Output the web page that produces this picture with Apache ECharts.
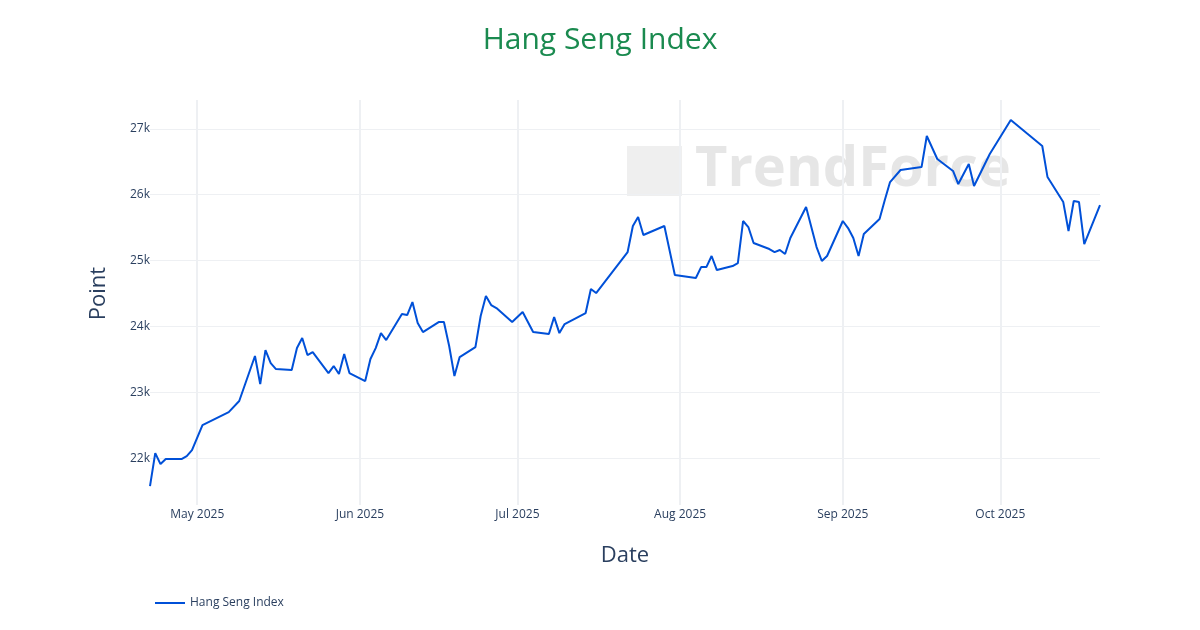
<!DOCTYPE html>
<html><head><meta charset="utf-8">
<script src="https://cdn.jsdelivr.net/npm/echarts@6/dist/echarts.min.js"></script>
<style>html,body{margin:0;padding:0;background:#fff}#c{width:1200px;height:630px}</style>
</head><body><div id="c"></div>
<script>
const dates = ['2025-04-22','2025-04-23','2025-04-24','2025-04-25','2025-04-27','2025-04-28','2025-04-29','2025-04-30','2025-05-02','2025-05-07','2025-05-09','2025-05-12','2025-05-13','2025-05-14','2025-05-15','2025-05-16','2025-05-19','2025-05-20','2025-05-21','2025-05-22','2025-05-23','2025-05-26','2025-05-27','2025-05-28','2025-05-29','2025-05-30','2025-06-02','2025-06-03','2025-06-04','2025-06-05','2025-06-06','2025-06-09','2025-06-10','2025-06-11','2025-06-12','2025-06-13','2025-06-16','2025-06-17','2025-06-18','2025-06-19','2025-06-20','2025-06-23','2025-06-24','2025-06-25','2025-06-26','2025-06-27','2025-06-30','2025-07-02','2025-07-04','2025-07-07','2025-07-08','2025-07-09','2025-07-10','2025-07-14','2025-07-15','2025-07-16','2025-07-22','2025-07-23','2025-07-24','2025-07-25','2025-07-29','2025-07-31','2025-08-04','2025-08-05','2025-08-06','2025-08-07','2025-08-08','2025-08-11','2025-08-12','2025-08-13','2025-08-14','2025-08-15','2025-08-18','2025-08-19','2025-08-20','2025-08-21','2025-08-22','2025-08-25','2025-08-27','2025-08-28','2025-08-29','2025-09-01','2025-09-02','2025-09-03','2025-09-04','2025-09-05','2025-09-08','2025-09-09','2025-09-10','2025-09-12','2025-09-16','2025-09-17','2025-09-19','2025-09-22','2025-09-23','2025-09-25','2025-09-26','2025-09-29','2025-10-03','2025-10-06','2025-10-09','2025-10-10','2025-10-13','2025-10-14','2025-10-15','2025-10-16','2025-10-17','2025-10-20'];
const values = [21574,22075,21908,21984,21984,21984,22030,22121,22501,22698,22866,23550,23124,23641,23443,23352,23337,23671,23823,23565,23610,23291,23398,23276,23580,23291,23170,23504,23671,23899,23793,24188,24173,24370,24051,23914,24066,24066,23702,23246,23534,23686,24158,24462,24325,24279,24066,24218,23914,23884,24142,23899,24036,24203,24568,24507,25130,25526,25662,25389,25526,24781,24735,24902,24902,25070,24857,24918,24963,25602,25510,25267,25176,25130,25161,25100,25343,25814,25206,24994,25070,25602,25495,25343,25070,25404,25632,25921,26194,26377,26422,26894,26544,26362,26164,26468,26134,26620,27137,26939,26742,26270,25890,25450,25906,25890,25252,25845];
const monthTicks = ['2025-05-01','2025-06-01','2025-07-01','2025-08-01','2025-09-01','2025-10-01'];
const monthLabels = ['May 2025','Jun 2025','Jul 2025','Aug 2025','Sep 2025','Oct 2025'];
const chart = echarts.init(document.getElementById('c'));
const fam = '"Open Sans", Arial, sans-serif';
chart.setOption({
  animation:false,
  title:{text:'Hang Seng Index',left:'center',top:20,textStyle:{color:'#1a8a4f',fontSize:30,fontWeight:'normal',fontFamily:fam}},
  graphic:[{type:'text',left:695,top:142,z:0,style:{text:'TrendForce',fontSize:56,fontWeight:'bold',fill:'rgba(200,200,200,0.45)',fontFamily:fam}},
           {type:'rect',shape:{x:627,y:146,width:55,height:50},z:0,style:{fill:'rgba(210,210,210,0.35)'}}],
  legend:{left:150,bottom:16,itemWidth:30,itemHeight:2,icon:'rect',textStyle:{color:'#2a3f5f',fontSize:12,fontFamily:fam}},
  grid:[{left:150,right:100,top:100,bottom:125},{left:150,right:100,top:63,bottom:106}],
  xAxis:[{type:'time',gridIndex:0,min:'2025-04-22',max:'2025-10-20',
    name:'Date',nameLocation:'middle',nameGap:40,nameTextStyle:{fontSize:22,color:'#2a3f5f',fontFamily:fam},
    axisLine:{show:false},axisTick:{show:false},axisLabel:{show:false},splitLine:{show:false}},
    {type:'value',gridIndex:1,show:false}],
  yAxis:[{type:'value',gridIndex:0,min:21286,max:27441,show:false},
    {type:'value',gridIndex:1,min:21000,max:28000,interval:1000,
     name:'Point',nameLocation:'middle',nameGap:40,nameTextStyle:{fontSize:22,color:'#2a3f5f',fontFamily:fam},
     axisLabel:{color:'#2a3f5f',fontSize:12,fontFamily:fam,margin:0,
       formatter:v=>(v===21000||v===28000)?'':(v/1000)+'k'},
     axisLine:{show:false},axisTick:{show:false},
     splitLine:{lineStyle:{color:['transparent','#eef0f3','#eef0f3','#eef0f3','#eef0f3','#eef0f3','#eef0f3','transparent'],width:1}}}],
  series:[{name:'Hang Seng Index',type:'line',xAxisIndex:0,yAxisIndex:0,showSymbol:false,z:3,
    lineStyle:{color:'#0050d8',width:2},itemStyle:{color:'#0050d8'},
    data:dates.map((d,i)=>[d,values[i]]),
    markLine:{silent:true,symbol:'none',z:1,animation:false,
      lineStyle:{color:'#eef0f3',width:2,type:'solid'},
      label:{position:'start',distance:4,color:'#2a3f5f',fontSize:12,fontFamily:fam,formatter:p=>p.name},
      data:monthTicks.map((d,i)=>({name:monthLabels[i],xAxis:d}))}}]
});
</script></body></html>
